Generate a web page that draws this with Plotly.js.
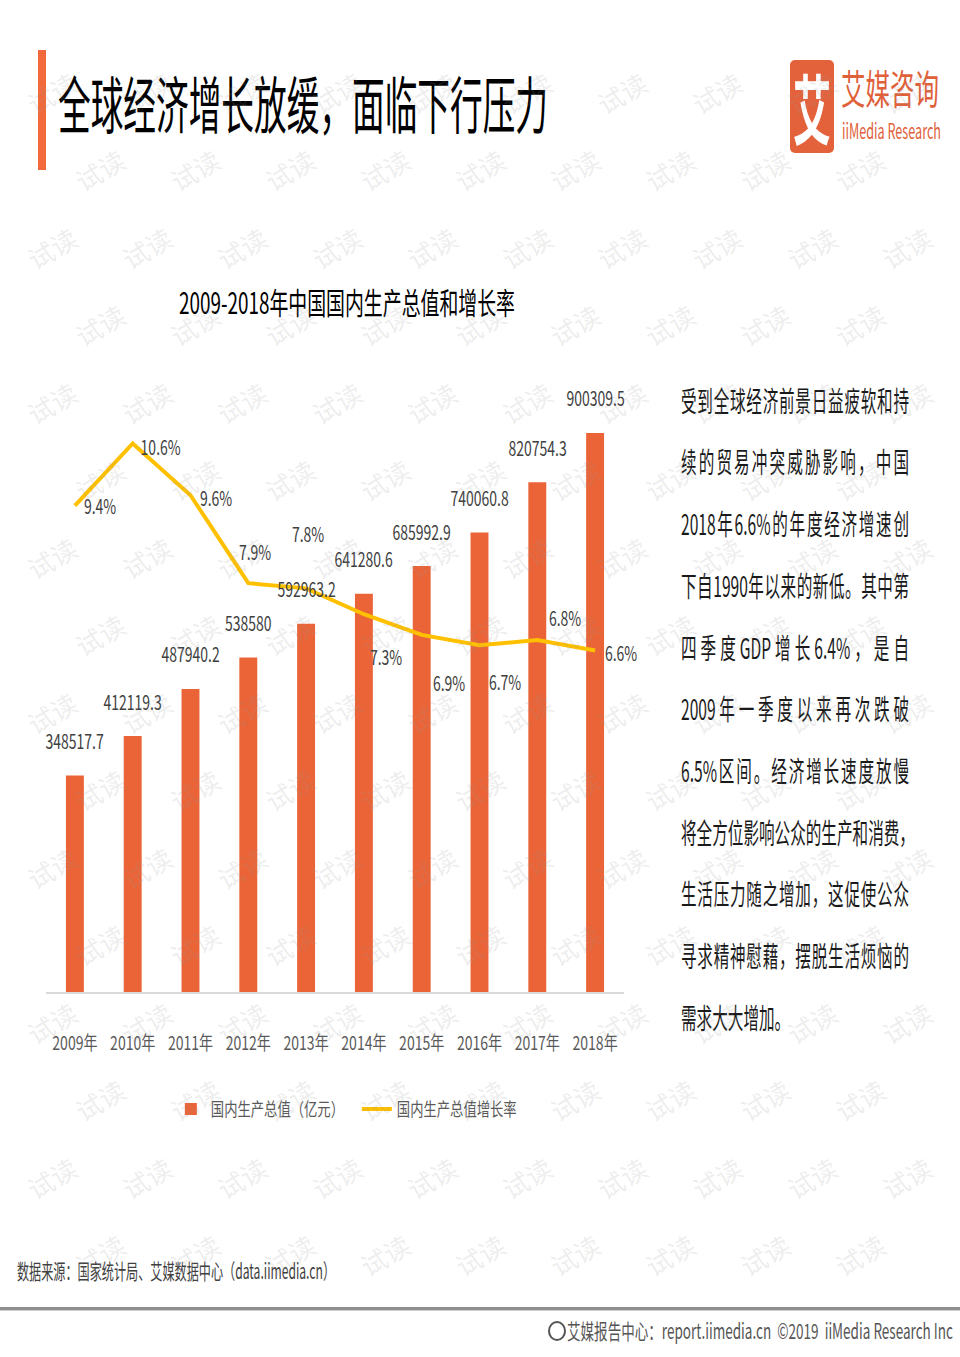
<!DOCTYPE html>
<html><head><meta charset="utf-8">
<script src="https://cdn.plot.ly/plotly-3.0.1.min.js"></script>
<style>
html,body{margin:0;padding:0;background:#fff;}
body{width:960px;height:1357px;position:relative;overflow:hidden;font-family:"Noto Sans CJK SC","Noto Sans",sans-serif;}
.abs{position:absolute;white-space:nowrap;transform-origin:0 0;line-height:1;}
#chart{position:absolute;left:0;top:340px;width:660px;height:800px;}
#wm{position:absolute;left:0;top:0;width:960px;height:1357px;pointer-events:none;z-index:50;}
#wm span{position:absolute;font-size:26px;line-height:1;color:rgba(150,150,150,0.18);transform:translate(-50%,-50%) rotate(-30deg);white-space:nowrap;}
.pline{position:absolute;left:681px;font-size:28px;line-height:1;color:#1a1a1a;white-space:nowrap;text-align:justify;text-align-last:justify;transform-origin:0 0;}
</style></head>
<body>
<div id="accent" style="position:absolute;left:38px;top:50px;width:8px;height:120px;background:#F26A3A;"></div>
<div class="abs" id="mainTitle" style="left:58px;top:71px;font-size:62px;color:#000;">全球经济增长放缓，面临下行压力</div>

<div id="logoBox" style="position:absolute;left:790px;top:60px;width:44px;height:93px;background:#E4623B;border-radius:5px;display:flex;align-items:center;justify-content:center;">
  <span style="color:#fff;font-size:38px;font-weight:bold;line-height:1;display:inline-block;transform:scale(1.0,2.0);">艾</span>
</div>
<div class="abs" id="logoCn" style="left:841px;top:67px;font-size:40px;color:#E0603A;">艾媒咨询</div>
<div class="abs" id="logoEn" style="left:842px;top:120px;font-size:21px;color:#E0603A;">iiMedia Research</div>

<div class="abs" id="chartTitle" style="left:179px;top:286px;font-size:30px;color:#000;">2009-2018年中国国内生产总值和增长率</div>

<div id="chart"></div>

<div id="para"></div>

<div class="abs" id="source" style="left:17px;top:1260px;font-size:21px;color:#404040;">数据来源：国家统计局、艾媒数据中心（data.iimedia.cn）</div>

<div style="position:absolute;left:0;top:1307px;width:960px;height:3px;background:#8f8f8f;"></div>
<div style="position:absolute;left:0;top:1310px;width:960px;height:1px;background:#d0d0d0;"></div>
<div style="position:absolute;left:548px;top:1321px;width:14px;height:16px;border:2px solid #555;border-radius:50%;"></div>
<div class="abs" id="footer" style="left:567px;top:1320px;font-size:21px;color:#555;">艾媒报告中心：report.iimedia.cn&nbsp;&nbsp;©2019&nbsp;&nbsp;iiMedia Research&nbsp;Inc</div>

<div id="wm"></div>

<script>
// ---------- data ----------
const years = ['2009年','2010年','2011年','2012年','2013年','2014年','2015年','2016年','2017年','2018年'];
const gdp = [348517.7, 412119.3, 487940.2, 538580, 592963.2, 641280.6, 685992.9, 740060.8, 820754.3, 900309.5];
const growth = [9.4, 10.6, 9.6, 7.9, 7.8, 7.3, 6.9, 6.7, 6.8, 6.6];
const seriesNames = ['国内生产总值（亿元）', '国内生产总值增长率'];
const paragraphLines = [
  '受到全球经济前景日益疲软和持',
  '续的贸易冲突威胁影响，中国',
  '2018年6.6%的年度经济增速创',
  '下自1990年以来的新低。其中第',
  '四季度GDP增长6.4%，是自',
  '2009年一季度以来再次跌破',
  '6.5%区间。经济增长速度放慢',
  '将全方位影响公众的生产和消费，',
  '生活压力随之增加，这促使公众',
  '寻求精神慰藉，摆脱生活烦恼的',
  '需求大大增加。'
];

// ---------- layout config (label nudges in px: [right, up]) ----------
const rateLabelShift = [[25,0],[28,-3],[25,-2],[7,32],[2,55],[22,-42],[27,-48],[25,-36],[28,23],[26,-2]];
const FONT = '"Noto Sans CJK SC","Noto Sans",sans-serif';
const BAR_COLOR = '#EB6437';
const LINE_COLOR = '#FFC000';

// ---------- HTML text fitting ----------
function fitWidth(id, w) {
  const el = document.getElementById(id);
  const nat = el.getBoundingClientRect().width;
  el.style.transform = 'scaleX(' + (w / nat) + ')';
}
fitWidth('mainTitle', 490);
fitWidth('logoCn', 98);
fitWidth('logoEn', 99);
fitWidth('chartTitle', 336);
fitWidth('source', 318);
fitWidth('footer', 386);

// paragraph
const para = document.getElementById('para');
const PS = 0.557, PW = 228;
const lineTops = [386, 447, 509, 571, 633, 694, 756, 818, 879, 941, 1003];
paragraphLines.forEach((txt, i) => {
  const d = document.createElement('div');
  d.className = 'pline';
  d.textContent = txt;
  d.style.top = lineTops[i] + 'px';
  d.style.width = (PW / PS) + 'px';
  d.style.transform = 'scaleX(' + PS + ')';
  if (i === paragraphLines.length - 1) { d.style.textAlign = 'left'; d.style.textAlignLast = 'left'; }
  para.appendChild(d);
});

// watermark (kept fully inside the page)
const wm = document.getElementById('wm');
for (let i = 0; i < 18; i++) {
  const y = 15 + 77.5 * i;
  if (y < 25 || y > 1300) continue;
  const x0 = (i % 2 === 0) ? 100 : 52;
  for (let j = 0; j < 11; j++) {
    const x = x0 + 95 * j;
    if (x < 35 || x > 925) continue;
    const s = document.createElement('span');
    s.textContent = '试读';
    s.style.left = x + 'px';
    s.style.top = y + 'px';
    wm.appendChild(s);
  }
}

// ---------- chart ----------
const traces = [
  {
    type: 'bar', x: years, y: gdp, name: seriesNames[0],
    marker: {color: BAR_COLOR}, yaxis: 'y', hoverinfo: 'none'
  },
  {
    type: 'scatter', mode: 'lines', x: years, y: growth, name: seriesNames[1],
    line: {color: LINE_COLOR, width: 4}, yaxis: 'y2', hoverinfo: 'none'
  }
];

const annotations = [];
gdp.forEach((v, i) => {
  annotations.push({
    x: years[i], y: v, xref: 'x', yref: 'y', text: String(v),
    showarrow: false, xanchor: 'center', yanchor: 'middle', yshift: 35,
    font: {family: FONT, size: 20, color: '#404040'}
  });
});
growth.forEach((v, i) => {
  annotations.push({
    x: years[i], y: v, xref: 'x', yref: 'y2', text: v.toFixed(1) + '%',
    showarrow: false, xanchor: 'center', yanchor: 'middle',
    xshift: rateLabelShift[i][0], yshift: rateLabelShift[i][1],
    font: {family: FONT, size: 20, color: '#404040'}
  });
});

const layout = {
  width: 660, height: 800,
  margin: {l: 46, r: 36, t: 31, b: 147.5, pad: 0},
  paper_bgcolor: 'rgba(0,0,0,0)', plot_bgcolor: 'rgba(0,0,0,0)',
  font: {family: FONT, color: '#595959'},
  bargap: 0.69,
  showlegend: true,
  legend: {
    orientation: 'h', x: 0.216, xanchor: 'left', y: -0.189, yanchor: 'middle',
    font: {family: FONT, size: 18, color: '#595959'},
    bgcolor: 'rgba(0,0,0,0)', traceorder: 'normal',
    entrywidth: 141, entrywidthmode: 'pixels', itemwidth: 30
  },
  xaxis: {
    type: 'category', range: [-0.5, 9.5], autorange: false,
    showline: true, linecolor: '#D9D9D9', linewidth: 1.5,
    ticks: '', showgrid: false, zeroline: false, tickangle: 0,
    tickfont: {family: FONT, size: 19, color: '#595959'},
    ticklabelstandoff: 34
  },
  yaxis: {range: [0, 1000000], visible: false, showgrid: false, zeroline: false},
  yaxis2: {range: [0, 12], overlaying: 'y', side: 'right', visible: false, showgrid: false, zeroline: false},
  annotations: annotations
};

function condense(t, s) {
  const x = parseFloat(t.getAttribute('x')) || 0;
  const prev = t.getAttribute('transform') || '';
  t.setAttribute('transform', prev + ' translate(' + x + ',0) scale(' + s + ',1) translate(' + (-x) + ',0)');
}

Plotly.newPlot('chart', traces, layout, {staticPlot: true, displayModeBar: false}).then(gd => {
  gd.querySelectorAll('.annotation-text').forEach(t => condense(t, 0.7));
  gd.querySelectorAll('.xtick text').forEach(t => condense(t, 0.74));
  gd.querySelectorAll('.legendtext').forEach(t => condense(t, 0.74));
});
</script>
</body></html>
